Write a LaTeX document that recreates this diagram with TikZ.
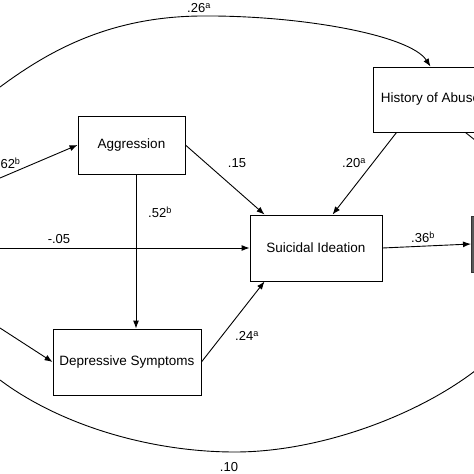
\documentclass[tikz,border=0pt]{standalone}
\usepackage{fontspec}
\setmainfont{Liberation Sans}
\usetikzlibrary{arrows.meta}
\begin{document}
\begin{tikzpicture}[x=1pt,y=-1pt,line width=0.9pt,
  box/.style={draw,line width=0.9pt,inner sep=0pt,font=\fontsize{13.5}{16}\selectfont},
  lab/.style={inner sep=0pt,font=\fontsize{13}{15}\selectfont},
  arr/.style={-{Latex[length=8pt,width=6pt]}}]
\useasboundingbox (0,0) rectangle (474,474);
\clip (0,0) rectangle (474,474);
% boxes
\node[box,minimum width=107pt,minimum height=58pt] (agg) at (131.5,145) {Aggression};
\node[box,minimum width=115pt,minimum height=65pt] (hoa) at (430.5,99.5) {History of Abuse};
\node[box,minimum width=132pt,minimum height=66pt] (si) at (316,248) {Suicidal Ideation};
\node[box,minimum width=148pt,minimum height=66pt] (dep) at (127,362) {Depressive Symptoms};
\node[draw=black!80,fill=black!65,minimum width=40pt,minimum height=56pt,inner sep=0pt,anchor=west] (out) at (471,244) {};
% free ends
\coordinate (Ltop) at (0,87);
\coordinate (L62) at (0,178);
\coordinate (L05) at (0,248);
\coordinate (Ldep) at (0,328);
\coordinate (Lbot) at (0,380);
\coordinate (Rbot) at (480,367);
\coordinate (Rhoa) at (540,192);
% connectors
\draw[arr] (Ltop) .. controls (50,50) and (110,17) .. (200,16) .. controls (300,15) and (410,35) .. (hoa.north);
\draw[arr] (L62) -- (agg.west);
\draw[arr] (agg.east) -- ([xshift=15pt]si.north west);
\draw[arr] ([xshift=4.5pt]agg.south) -- ([xshift=4.5pt]agg.south |- dep.north);
\draw[arr] (L05) -- (si.west);
\draw[arr] ([xshift=24pt]hoa.south west) -- ([xshift=83pt]si.north west);
\draw ([xshift=-23pt]hoa.south east) -- (Rhoa);
\draw[arr] (dep.east) -- ([xshift=15pt]si.south west);
\draw[arr] (si.east) -- (out.west);
\draw[arr] (Ldep) -- (dep.west);
\draw (Lbot) .. controls (60,425) and (150,452) .. (235,452) .. controls (320,452) and (420,415) .. (Rbot);
% labels
\node[lab] (l26) at (199,8) {.26\textsuperscript{a}};
\node[lab,anchor=east] (l62) at (21,163) {.62\textsuperscript{b}};
\node[lab] (l15) at (237,163) {.15};
\node[lab] (l20) at (354,163) {.20\textsuperscript{a}};
\node[lab] (l52) at (160,212) {.52\textsuperscript{b}};
\node[lab] (l05) at (59,239) {-.05};
\node[lab] (l36) at (423,237) {.36\textsuperscript{b}};
\node[lab] (l24) at (247,336) {.24\textsuperscript{a}};
\node[lab] (l10) at (229,467) {.10};
\end{tikzpicture}
\end{document}
